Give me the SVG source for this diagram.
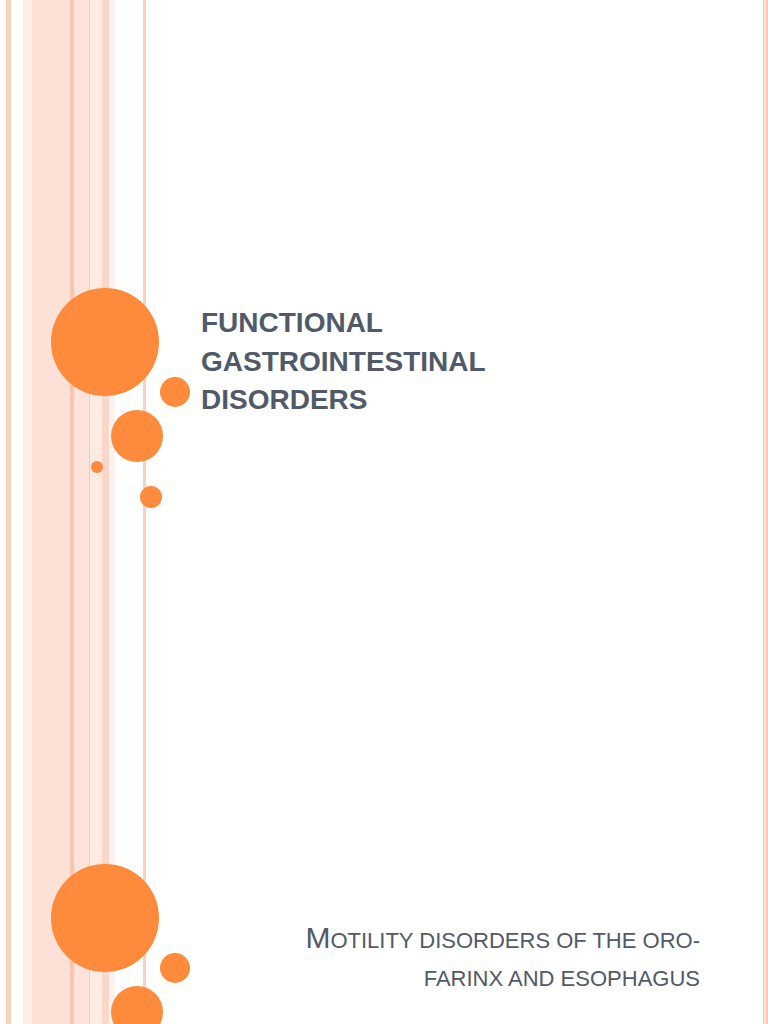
<svg xmlns="http://www.w3.org/2000/svg" width="768" height="1024" viewBox="0 0 768 1024">
<style>
.c{fill:#fe8b3b}
.t{font-family:"Liberation Sans",Arial,sans-serif;font-weight:bold;fill:#505a68}
.s{font-family:"Liberation Sans",Arial,sans-serif;fill:#505a68}
</style>
<rect width="768" height="1024" fill="#fff"/>
<g id="stripes">
<rect x="6" y="0" width="5" height="1024" fill="#fcd0c0"/>
<rect x="23" y="0" width="9" height="1024" fill="#fdeee8"/>
<rect x="32" y="0" width="38" height="1024" fill="#fde0d6"/>
<rect x="70" y="0" width="4" height="1024" fill="#fcc4b0"/>
<rect x="74" y="0" width="15" height="1024" fill="#fde4da"/>
<rect x="89" y="0" width="1" height="1024" fill="#fbc8b6"/>
<rect x="90" y="0" width="12" height="1024" fill="#fdeae2"/>
<rect x="102" y="0" width="7" height="1024" fill="#fcd6c8"/>
<rect x="109" y="0" width="6" height="1024" fill="#fef2ee"/>
<rect x="143" y="0" width="3" height="1024" fill="#fcd0c0"/>
<rect x="763" y="0" width="5" height="1024" fill="#fcc8b4"/>
<rect x="764.5" y="0" width="0.8" height="1024" fill="#fff"/>
</g>
<g id="circles">
<circle class="c" cx="105" cy="342" r="54"/>
<circle class="c" cx="175" cy="392" r="15"/>
<circle class="c" cx="137" cy="436" r="26"/>
<circle class="c" cx="97" cy="467" r="6"/>
<circle class="c" cx="151" cy="497" r="11"/>
<circle class="c" cx="105" cy="918" r="54"/>
<circle class="c" cx="175" cy="968" r="15"/>
<circle class="c" cx="137" cy="1012" r="26"/>
</g>
<g id="title" class="t" font-size="28">
<text x="201" y="332">FUNCTIONAL</text>
<text x="201" y="371">GASTROINTESTINAL</text>
<text x="201" y="409">DISORDERS</text>
</g>
<g id="subtitle" class="s" text-anchor="end">
<text x="700" y="948" font-size="22"><tspan font-size="30">M</tspan>OTILITY DISORDERS OF THE ORO-</text>
<text x="700" y="986" font-size="22">FARINX AND ESOPHAGUS</text>
</g>
</svg>
